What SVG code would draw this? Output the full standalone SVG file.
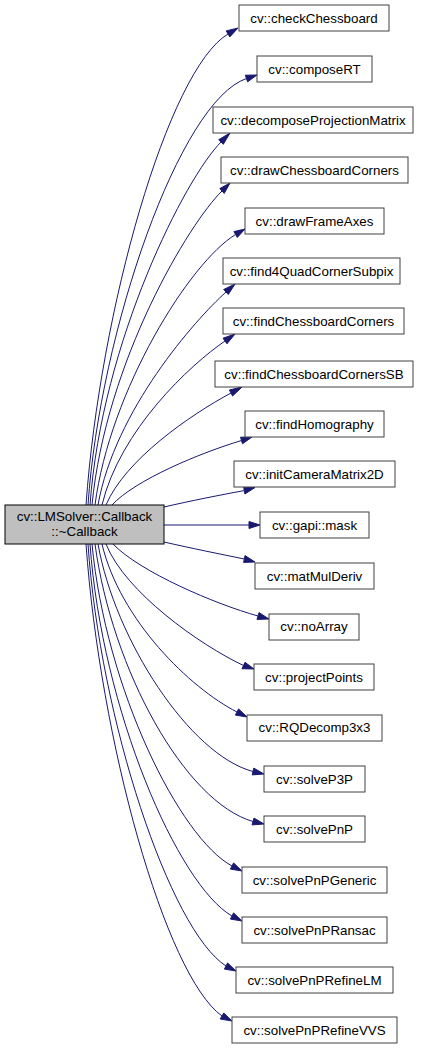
<svg xmlns="http://www.w3.org/2000/svg" width="423" height="1051" viewBox="0 0 423 1051">
<style>
.n rect{fill:#ffffff;stroke:#404040;stroke-width:1}
.s rect{fill:#bfbfbf;stroke:#000000;stroke-width:1}
text{font-family:"Liberation Sans",Arial,Helvetica,sans-serif;font-size:13.33px;fill:#000;text-anchor:middle}
.e path{fill:none;stroke:#191970;stroke-width:1}
.e polygon{fill:#191970;stroke:#191970;stroke-width:1}
</style>
<rect width="423" height="1051" fill="#ffffff"/>
<g id="connectors" class="e">
<path d="M86,505 C100,310 168,70 228,34"/><polygon points="226.2,30.9 238,28 229.8,36.9"/>
<path d="M88,505 C100,330 180,101 246.5,78.5"/><polygon points="245.3,75.2 257,75 247.6,81.8"/>
<path d="M90,505 C102,340 186,177 221,142"/><polygon points="218.7,139.7 230,133 223.3,144.3"/>
<path d="M92,505 C106,360 190,222 222,191"/><polygon points="219.8,188.6 230,183 224.2,193.4"/>
<path d="M95,505 C110,390 190,262 235.6,234.5"/><polygon points="233.9,231.6 245,229 237.3,237.4"/>
<path d="M98,505 C115,410 195,320 226,292"/><polygon points="223.7,289.5 235,284 228.3,294.5"/>
<path d="M102,505 C120,430 190,365 225,341"/><polygon points="223,338.2 235,334 227,343.8"/>
<path d="M106,505 C125,460 190,415 231,393"/><polygon points="229.4,390 242,387 232.6,396"/>
<path d="M112,505 C135,480 200,453 241.5,440.5"/><polygon points="240.5,437.2 252,437 242.5,443.8"/>
<path d="M164,507 C190,501 220,495 244.3,490.6"/><polygon points="243.7,487.2 255,487.5 244.9,494"/>
<path d="M164,525 L249,525"/><polygon points="249,521.5 260,525 249,528.5"/>
<path d="M164,542 C190,548 220,554 244.3,559"/><polygon points="243.6,562.4 255,562 245,555.6"/>
<path d="M113,544 C140,572 215,604 258,616"/><polygon points="257,619.4 269,619 259,612.6"/>
<path d="M106,544 C125,592 200,645 243.5,665.5"/><polygon points="242,668.7 254,669 245,662.3"/>
<path d="M102,544 C120,620 190,688 237,712"/><polygon points="235.4,715.1 247,717 238.6,708.9"/>
<path d="M98,544 C115,640 190,755 253,771.5"/><polygon points="252.2,774.9 264,774 253.8,768.1"/>
<path d="M95,544 C112,670 185,802 253,821.5"/><polygon points="252,824.9 264,824 254,818.1"/>
<path d="M92,544 C106,690 180,838 232,866"/><polygon points="230.4,869.1 242,871 233.6,862.9"/>
<path d="M90,544 C102,710 178,885 232,916"/><polygon points="230.4,919.1 242,921 233.6,912.9"/>
<path d="M88,544 C100,720 170,930 226,966"/><polygon points="224.4,969.1 236,971 227.6,962.9"/>
<path d="M86,544 C100,740 165,975 222,1016"/><polygon points="220.2,1019 232,1021 223.8,1013"/>
</g>
<g id="node_src" class="s"><rect x="5" y="505" width="159" height="39"/><text x="84.5" y="521">cv::LMSolver::Callback</text><text x="84.5" y="536">::~Callback</text></g>
<g id="n0" class="n"><rect x="239" y="5" width="150" height="26"/><text x="314" y="23">cv::checkChessboard</text></g>
<g id="n1" class="n"><rect x="257" y="56" width="115" height="26"/><text x="314.5" y="73.5">cv::composeRT</text></g>
<g id="n2" class="n"><rect x="213" y="107" width="200" height="26"/><text x="313" y="124.5">cv::decomposeProjectionMatrix</text></g>
<g id="n3" class="n"><rect x="221" y="157" width="187" height="26"/><text x="314.5" y="174.5">cv::drawChessboardCorners</text></g>
<g id="n4" class="n"><rect x="245" y="208" width="139" height="26"/><text x="314.5" y="225.5">cv::drawFrameAxes</text></g>
<g id="n5" class="n"><rect x="223" y="258" width="177" height="26"/><text x="311.5" y="275.5">cv::find4QuadCornerSubpix</text></g>
<g id="n6" class="n"><rect x="223" y="308" width="181" height="26"/><text x="313.5" y="326">cv::findChessboardCorners</text></g>
<g id="n7" class="n"><rect x="215" y="361" width="198" height="26"/><text x="314" y="378.5">cv::findChessboardCornersSB</text></g>
<g id="n8" class="n"><rect x="245" y="411" width="139" height="26"/><text x="314.5" y="428.5">cv::findHomography</text></g>
<g id="n9" class="n"><rect x="234" y="461" width="161" height="26"/><text x="314.5" y="479">cv::initCameraMatrix2D</text></g>
<g id="n10" class="n"><rect x="260" y="512" width="109" height="26"/><text x="314.5" y="529.5">cv::gapi::mask</text></g>
<g id="n11" class="n"><rect x="255" y="563" width="119" height="26"/><text x="314.5" y="580.5">cv::matMulDeriv</text></g>
<g id="n12" class="n"><rect x="269" y="614" width="90" height="26"/><text x="314" y="631">cv::noArray</text></g>
<g id="n13" class="n"><rect x="254" y="664" width="120" height="26"/><text x="314" y="681.5">cv::projectPoints</text></g>
<g id="n14" class="n"><rect x="247" y="715" width="135" height="26"/><text x="314.5" y="732">cv::RQDecomp3x3</text></g>
<g id="n15" class="n"><rect x="264" y="766" width="101" height="26"/><text x="314.5" y="783.5">cv::solveP3P</text></g>
<g id="n16" class="n"><rect x="264" y="816" width="101" height="26"/><text x="314.5" y="833.5">cv::solvePnP</text></g>
<g id="n17" class="n"><rect x="242" y="867" width="145" height="26"/><text x="314.5" y="884.5">cv::solvePnPGeneric</text></g>
<g id="n18" class="n"><rect x="242" y="917" width="145" height="26"/><text x="314.5" y="934.5">cv::solvePnPRansac</text></g>
<g id="n19" class="n"><rect x="236" y="967" width="157" height="26"/><text x="314.5" y="985">cv::solvePnPRefineLM</text></g>
<g id="n20" class="n"><rect x="232" y="1017" width="165" height="26"/><text x="314.5" y="1035">cv::solvePnPRefineVVS</text></g>
</svg>
